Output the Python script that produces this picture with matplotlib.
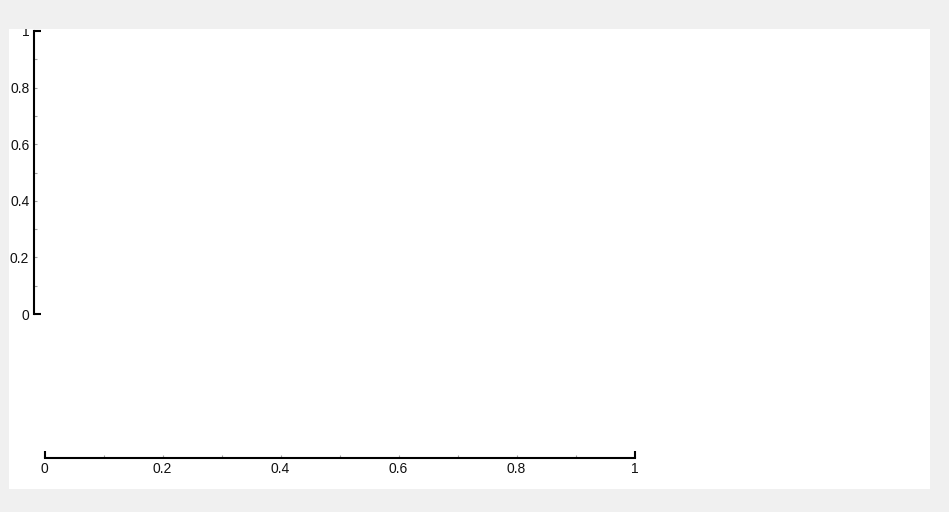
import matplotlib
matplotlib.use("Agg")
import matplotlib.pyplot as plt
from matplotlib.patches import Rectangle

# ---- data ----
y_major = [0, 1]
y_minor = [0.1, 0.2, 0.3, 0.4, 0.5, 0.6, 0.7, 0.8, 0.9]
y_labels_major = ["0", "1"]
y_labels_minor = ["", "0.2", "", "0.4", "", "0.6", "", "0.8", ""]
x_major = [0, 1]
x_minor = [0.1, 0.2, 0.3, 0.4, 0.5, 0.6, 0.7, 0.8, 0.9]
x_labels_major = ["0", "1"]
x_labels_minor = ["", "0.2", "", "0.4", "", "0.6", "", "0.8", ""]

W, H = 949, 512
fig = plt.figure(figsize=(W / 100, H / 100), dpi=100, facecolor="#f0f0f0")

def fx(px):
    return px / W

def fy(py):
    return (H - py) / H

# white panel
panel = Rectangle((fx(9), fy(489)), fx(930) - fx(9), fy(29) - fy(489),
                  transform=fig.transFigure, facecolor="white", edgecolor="none", zorder=-5)
fig.patches.append(panel)

FONT = dict(family=["Liberation Sans Narrow", "Liberation Sans"], size=10, color="#111111")

# ---- y axis ----
ay = fig.add_axes([fx(33.5), fy(314), fx(60), fy(31) - fy(314)])
ay.set_facecolor("none")
ay.set_ylim(0, 1)
ay.set_xlim(0, 1)
for s in ["top", "right", "bottom"]:
    ay.spines[s].set_visible(False)
ay.spines["left"].set_linewidth(1.5)
ay.set_xticks([])
ay.set_yticks(y_major)
ay.set_yticklabels(y_labels_major, **FONT)
ay.set_yticks(y_minor, minor=True)
ay.set_yticklabels(y_labels_minor, minor=True, **FONT)
ay.tick_params(axis="y", which="major", direction="in", length=5, width=1.5, color="black", pad=3)
ay.tick_params(axis="y", which="minor", direction="in", length=2.5, width=0.8, color="#a0a0a0", pad=3)

# ---- x axis ----
ax = fig.add_axes([fx(44.5), fy(457.5), fx(634.5) - fx(44.5), fx(20)])
ax.set_facecolor("none")
ax.set_xlim(0, 1)
ax.set_ylim(0, 1)
for s in ["top", "right", "left"]:
    ax.spines[s].set_visible(False)
ax.spines["bottom"].set_linewidth(1.5)
ax.set_yticks([])
ax.set_xticks(x_major)
ax.set_xticklabels(x_labels_major, **FONT)
ax.set_xticks(x_minor, minor=True)
ax.set_xticklabels(x_labels_minor, minor=True, **FONT)
ax.tick_params(axis="x", which="major", direction="in", length=5, width=1.5, color="black", pad=3)
ax.tick_params(axis="x", which="minor", direction="in", length=2.5, width=0.8, color="#a0a0a0", pad=3)

# clip labels to the white panel
for a in (ax, ay):
    for lab in a.get_xticklabels() + a.get_yticklabels() + \
               a.get_xticklabels(minor=True) + a.get_yticklabels(minor=True):
        lab.set_clip_path(panel)

fig.savefig("out.png", dpi=100, facecolor=fig.get_facecolor())
